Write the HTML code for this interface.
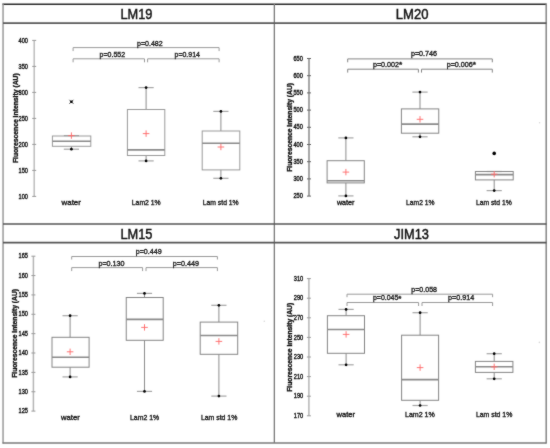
<!DOCTYPE html>
<html><head><meta charset="utf-8"><title>Fluorescence intensity</title>
<style>
html,body{margin:0;padding:0;background:#fff;}
body{width:550px;height:448px;overflow:hidden;}
svg{display:block;font-family:"Liberation Sans", "DejaVu Sans", sans-serif;}
</style></head>
<body>
<svg width="550" height="448" viewBox="0 0 550 448">
<defs><filter id="bl" x="0" y="0" width="550" height="448" filterUnits="userSpaceOnUse" color-interpolation-filters="sRGB"><feConvolveMatrix order="3" kernelMatrix="1 2 1 2 24.0 2 1 2 1" divisor="36.0" edgeMode="duplicate"/></filter></defs>
<rect width="550" height="448" fill="#fff"/>
<g filter="url(#bl)">
<rect width="550" height="448" fill="#fff"/>
<text x="120.4" y="18.7" font-size="14" fill="#111" font-weight="normal" text-anchor="start" textLength="32.0" lengthAdjust="spacingAndGlyphs" stroke="#111" stroke-width="0.45">LM19</text>
<line x1="34.2" y1="40.4" x2="34.2" y2="196.4" stroke="#bdbdbd" stroke-width="1.5"/>
<line x1="32.2" y1="40.4" x2="36.2" y2="40.4" stroke="#999" stroke-width="1.0"/>
<text x="27.9" y="42.55" font-size="6.6" fill="#1a1a1a" font-weight="normal" text-anchor="end" textLength="9.4" lengthAdjust="spacingAndGlyphs" stroke="#1a1a1a" stroke-width="0.4">400</text>
<line x1="32.2" y1="66.4" x2="36.2" y2="66.4" stroke="#999" stroke-width="1.0"/>
<text x="27.9" y="68.55000000000001" font-size="6.6" fill="#1a1a1a" font-weight="normal" text-anchor="end" textLength="9.4" lengthAdjust="spacingAndGlyphs" stroke="#1a1a1a" stroke-width="0.4">350</text>
<line x1="32.2" y1="92.4" x2="36.2" y2="92.4" stroke="#999" stroke-width="1.0"/>
<text x="27.9" y="94.55000000000001" font-size="6.6" fill="#1a1a1a" font-weight="normal" text-anchor="end" textLength="9.4" lengthAdjust="spacingAndGlyphs" stroke="#1a1a1a" stroke-width="0.4">300</text>
<line x1="32.2" y1="118.4" x2="36.2" y2="118.4" stroke="#999" stroke-width="1.0"/>
<text x="27.9" y="120.55000000000001" font-size="6.6" fill="#1a1a1a" font-weight="normal" text-anchor="end" textLength="9.4" lengthAdjust="spacingAndGlyphs" stroke="#1a1a1a" stroke-width="0.4">250</text>
<line x1="32.2" y1="144.4" x2="36.2" y2="144.4" stroke="#999" stroke-width="1.0"/>
<text x="27.9" y="146.55" font-size="6.6" fill="#1a1a1a" font-weight="normal" text-anchor="end" textLength="9.4" lengthAdjust="spacingAndGlyphs" stroke="#1a1a1a" stroke-width="0.4">200</text>
<line x1="32.2" y1="170.4" x2="36.2" y2="170.4" stroke="#999" stroke-width="1.0"/>
<text x="27.9" y="172.55" font-size="6.6" fill="#1a1a1a" font-weight="normal" text-anchor="end" textLength="9.4" lengthAdjust="spacingAndGlyphs" stroke="#1a1a1a" stroke-width="0.4">150</text>
<line x1="32.2" y1="196.4" x2="36.2" y2="196.4" stroke="#999" stroke-width="1.0"/>
<text x="27.9" y="198.55" font-size="6.6" fill="#1a1a1a" font-weight="normal" text-anchor="end" textLength="9.4" lengthAdjust="spacingAndGlyphs" stroke="#1a1a1a" stroke-width="0.4">100</text>
<text transform="translate(17.5,163.1) rotate(-90)" x="0" y="0" font-size="7.3" font-weight="bold" fill="#111" stroke="#111" stroke-width="0.35" textLength="89.89999999999999" lengthAdjust="spacingAndGlyphs">Fluorescence intensity (AU)</text>
<path d="M73.1 51.1 V47.6 H219.1 V51.1" fill="none" stroke="#9a9a9a" stroke-width="1"/>
<path d="M73.1 62.3 V58.8 H144.5 V62.3" fill="none" stroke="#9a9a9a" stroke-width="1"/>
<path d="M147.6 62.3 V58.8 H219.1 V62.3" fill="none" stroke="#9a9a9a" stroke-width="1"/>
<text x="137.1" y="45.5" font-size="6.9" fill="#222" font-weight="normal" text-anchor="start" textLength="25.6" lengthAdjust="spacingAndGlyphs" stroke="#222" stroke-width="0.35">p=0.482</text>
<text x="99.6" y="56.5" font-size="6.9" fill="#222" font-weight="normal" text-anchor="start" textLength="25.5" lengthAdjust="spacingAndGlyphs" stroke="#222" stroke-width="0.35">p=0.552</text>
<text x="174.5" y="56.5" font-size="6.9" fill="#222" font-weight="normal" text-anchor="start" textLength="25.5" lengthAdjust="spacingAndGlyphs" stroke="#222" stroke-width="0.35">p=0.914</text>
<line x1="71.4" y1="135.6" x2="71.4" y2="136.0" stroke="#8c8c8c" stroke-width="1.0"/>
<line x1="71.4" y1="146.3" x2="71.4" y2="149.2" stroke="#8c8c8c" stroke-width="1.0"/>
<line x1="63.800000000000004" y1="135.6" x2="79.0" y2="135.6" stroke="#a5a5a5" stroke-width="1.2"/>
<line x1="63.800000000000004" y1="149.2" x2="79.0" y2="149.2" stroke="#a5a5a5" stroke-width="1.2"/>
<circle cx="71.4" cy="149.2" r="1.35" fill="#000"/>
<rect x="52.4" y="136.0" width="38.4" height="10.300000000000011" fill="none" stroke="#9a9a9a" stroke-width="1"/>
<line x1="52.4" y1="141.3" x2="90.8" y2="141.3" stroke="#8a8a8a" stroke-width="1.6"/>
<line x1="68.10000000000001" y1="135.6" x2="74.7" y2="135.6" stroke="#ff6666" stroke-width="0.9"/>
<line x1="71.4" y1="132.4" x2="71.4" y2="138.79999999999998" stroke="#ff6666" stroke-width="0.9"/>
<line x1="146.1" y1="87.6" x2="146.1" y2="109.5" stroke="#8c8c8c" stroke-width="1.0"/>
<line x1="146.1" y1="155.5" x2="146.1" y2="160.9" stroke="#8c8c8c" stroke-width="1.0"/>
<line x1="138.5" y1="87.6" x2="153.7" y2="87.6" stroke="#a5a5a5" stroke-width="1.2"/>
<line x1="138.5" y1="160.9" x2="153.7" y2="160.9" stroke="#a5a5a5" stroke-width="1.2"/>
<circle cx="146.1" cy="87.6" r="1.35" fill="#000"/>
<circle cx="146.1" cy="160.9" r="1.35" fill="#000"/>
<rect x="127.4" y="109.5" width="37.400000000000006" height="46.0" fill="none" stroke="#9a9a9a" stroke-width="1"/>
<line x1="127.4" y1="149.9" x2="164.8" y2="149.9" stroke="#8a8a8a" stroke-width="1.6"/>
<line x1="142.79999999999998" y1="133.6" x2="149.4" y2="133.6" stroke="#ff6666" stroke-width="0.9"/>
<line x1="146.1" y1="130.4" x2="146.1" y2="136.79999999999998" stroke="#ff6666" stroke-width="0.9"/>
<line x1="220.9" y1="111.4" x2="220.9" y2="131.0" stroke="#8c8c8c" stroke-width="1.0"/>
<line x1="220.9" y1="169.9" x2="220.9" y2="178.3" stroke="#8c8c8c" stroke-width="1.0"/>
<line x1="213.3" y1="111.4" x2="228.5" y2="111.4" stroke="#a5a5a5" stroke-width="1.2"/>
<line x1="213.3" y1="178.3" x2="228.5" y2="178.3" stroke="#a5a5a5" stroke-width="1.2"/>
<circle cx="220.9" cy="111.4" r="1.35" fill="#000"/>
<circle cx="220.9" cy="178.3" r="1.35" fill="#000"/>
<rect x="202.2" y="131.0" width="37.60000000000002" height="38.900000000000006" fill="none" stroke="#9a9a9a" stroke-width="1"/>
<line x1="202.2" y1="143.2" x2="239.8" y2="143.2" stroke="#8a8a8a" stroke-width="1.6"/>
<line x1="217.6" y1="147.0" x2="224.20000000000002" y2="147.0" stroke="#ff6666" stroke-width="0.9"/>
<line x1="220.9" y1="143.8" x2="220.9" y2="150.2" stroke="#ff6666" stroke-width="0.9"/>
<path d="M69.4 99.8 L73.4 103.8 M73.4 99.8 L69.4 103.8" stroke="#444" stroke-width="1.0"/>
<circle cx="71.4" cy="101.8" r="1.3" fill="#000"/>
<text x="61.6" y="205.3" font-size="7" fill="#1a1a1a" font-weight="normal" text-anchor="start" textLength="19.2" lengthAdjust="spacingAndGlyphs" stroke="#1a1a1a" stroke-width="0.35">water</text>
<text x="131.8" y="205.3" font-size="7" fill="#1a1a1a" font-weight="normal" text-anchor="start" textLength="28.9" lengthAdjust="spacingAndGlyphs" stroke="#1a1a1a" stroke-width="0.35">Lam2 1%</text>
<text x="202.7" y="205.3" font-size="7" fill="#1a1a1a" font-weight="normal" text-anchor="start" textLength="36.0" lengthAdjust="spacingAndGlyphs" stroke="#1a1a1a" stroke-width="0.35">Lam std 1%</text>
<text x="395.8" y="18.7" font-size="14" fill="#111" font-weight="normal" text-anchor="start" textLength="32.7" lengthAdjust="spacingAndGlyphs" stroke="#111" stroke-width="0.45">LM20</text>
<line x1="309.0" y1="58.5" x2="309.0" y2="196.1" stroke="#8a8a8a" stroke-width="1.5"/>
<line x1="307.0" y1="58.5" x2="311.0" y2="58.5" stroke="#666" stroke-width="1.0"/>
<text x="302.8" y="60.65" font-size="6.6" fill="#1a1a1a" font-weight="normal" text-anchor="end" textLength="9.4" lengthAdjust="spacingAndGlyphs" stroke="#1a1a1a" stroke-width="0.4">650</text>
<line x1="307.0" y1="75.7" x2="311.0" y2="75.7" stroke="#666" stroke-width="1.0"/>
<text x="302.8" y="77.85000000000001" font-size="6.6" fill="#1a1a1a" font-weight="normal" text-anchor="end" textLength="9.4" lengthAdjust="spacingAndGlyphs" stroke="#1a1a1a" stroke-width="0.4">600</text>
<line x1="307.0" y1="92.9" x2="311.0" y2="92.9" stroke="#666" stroke-width="1.0"/>
<text x="302.8" y="95.05000000000001" font-size="6.6" fill="#1a1a1a" font-weight="normal" text-anchor="end" textLength="9.4" lengthAdjust="spacingAndGlyphs" stroke="#1a1a1a" stroke-width="0.4">550</text>
<line x1="307.0" y1="110.1" x2="311.0" y2="110.1" stroke="#666" stroke-width="1.0"/>
<text x="302.8" y="112.25" font-size="6.6" fill="#1a1a1a" font-weight="normal" text-anchor="end" textLength="9.4" lengthAdjust="spacingAndGlyphs" stroke="#1a1a1a" stroke-width="0.4">500</text>
<line x1="307.0" y1="127.3" x2="311.0" y2="127.3" stroke="#666" stroke-width="1.0"/>
<text x="302.8" y="129.45" font-size="6.6" fill="#1a1a1a" font-weight="normal" text-anchor="end" textLength="9.4" lengthAdjust="spacingAndGlyphs" stroke="#1a1a1a" stroke-width="0.4">450</text>
<line x1="307.0" y1="144.5" x2="311.0" y2="144.5" stroke="#666" stroke-width="1.0"/>
<text x="302.8" y="146.65" font-size="6.6" fill="#1a1a1a" font-weight="normal" text-anchor="end" textLength="9.4" lengthAdjust="spacingAndGlyphs" stroke="#1a1a1a" stroke-width="0.4">400</text>
<line x1="307.0" y1="161.7" x2="311.0" y2="161.7" stroke="#666" stroke-width="1.0"/>
<text x="302.8" y="163.85" font-size="6.6" fill="#1a1a1a" font-weight="normal" text-anchor="end" textLength="9.4" lengthAdjust="spacingAndGlyphs" stroke="#1a1a1a" stroke-width="0.4">350</text>
<line x1="307.0" y1="178.89999999999998" x2="311.0" y2="178.89999999999998" stroke="#666" stroke-width="1.0"/>
<text x="302.8" y="181.04999999999998" font-size="6.6" fill="#1a1a1a" font-weight="normal" text-anchor="end" textLength="9.4" lengthAdjust="spacingAndGlyphs" stroke="#1a1a1a" stroke-width="0.4">300</text>
<line x1="307.0" y1="196.1" x2="311.0" y2="196.1" stroke="#666" stroke-width="1.0"/>
<text x="302.8" y="198.25" font-size="6.6" fill="#1a1a1a" font-weight="normal" text-anchor="end" textLength="9.4" lengthAdjust="spacingAndGlyphs" stroke="#1a1a1a" stroke-width="0.4">250</text>
<text transform="translate(292.2,171.8) rotate(-90)" x="0" y="0" font-size="7.3" font-weight="bold" fill="#111" stroke="#111" stroke-width="0.35" textLength="88.80000000000001" lengthAdjust="spacingAndGlyphs">Fluorescence intensity (AU)</text>
<path d="M347.7 62.3 V58.9 H492.3 V62.3" fill="none" stroke="#858585" stroke-width="1"/>
<path d="M347.7 72.60000000000001 V69.2 H418.4 V72.60000000000001" fill="none" stroke="#858585" stroke-width="1"/>
<path d="M421.5 72.60000000000001 V69.2 H492.3 V72.60000000000001" fill="none" stroke="#858585" stroke-width="1"/>
<text x="410.9" y="56.2" font-size="6.9" fill="#222" font-weight="normal" text-anchor="start" textLength="26.2" lengthAdjust="spacingAndGlyphs" stroke="#222" stroke-width="0.35">p=0.746</text>
<text x="372.9" y="66.6" font-size="6.9" fill="#222" font-weight="normal" text-anchor="start" textLength="29.3" lengthAdjust="spacingAndGlyphs" stroke="#222" stroke-width="0.35">p=0.002<tspan font-size="7.8" font-weight="bold" dy="0.1">*</tspan></text>
<text x="446.7" y="66.6" font-size="6.9" fill="#222" font-weight="normal" text-anchor="start" textLength="29.3" lengthAdjust="spacingAndGlyphs" stroke="#222" stroke-width="0.35">p=0.006<tspan font-size="7.8" font-weight="bold" dy="0.1">*</tspan></text>
<line x1="345.9" y1="137.9" x2="345.9" y2="160.7" stroke="#8c8c8c" stroke-width="1.0"/>
<line x1="345.9" y1="182.9" x2="345.9" y2="195.9" stroke="#8c8c8c" stroke-width="1.0"/>
<line x1="338.29999999999995" y1="137.9" x2="353.5" y2="137.9" stroke="#a5a5a5" stroke-width="1.2"/>
<line x1="338.29999999999995" y1="195.9" x2="353.5" y2="195.9" stroke="#a5a5a5" stroke-width="1.2"/>
<circle cx="345.9" cy="137.9" r="1.35" fill="#000"/>
<circle cx="345.9" cy="195.9" r="1.35" fill="#000"/>
<rect x="327.1" y="160.7" width="37.19999999999999" height="22.200000000000017" fill="none" stroke="#858585" stroke-width="1"/>
<line x1="327.1" y1="180.7" x2="364.3" y2="180.7" stroke="#8a8a8a" stroke-width="1.6"/>
<line x1="342.59999999999997" y1="172.1" x2="349.2" y2="172.1" stroke="#ff6666" stroke-width="0.9"/>
<line x1="345.9" y1="168.9" x2="345.9" y2="175.29999999999998" stroke="#ff6666" stroke-width="0.9"/>
<line x1="420.0" y1="92.1" x2="420.0" y2="108.9" stroke="#8c8c8c" stroke-width="1.0"/>
<line x1="420.0" y1="133.2" x2="420.0" y2="136.8" stroke="#8c8c8c" stroke-width="1.0"/>
<line x1="412.4" y1="92.1" x2="427.6" y2="92.1" stroke="#a5a5a5" stroke-width="1.2"/>
<line x1="412.4" y1="136.8" x2="427.6" y2="136.8" stroke="#a5a5a5" stroke-width="1.2"/>
<circle cx="420.0" cy="92.1" r="1.35" fill="#000"/>
<circle cx="420.0" cy="136.8" r="1.35" fill="#000"/>
<rect x="401.4" y="108.9" width="37.35000000000002" height="24.299999999999983" fill="none" stroke="#858585" stroke-width="1"/>
<line x1="401.4" y1="124.1" x2="438.75" y2="124.1" stroke="#8a8a8a" stroke-width="1.6"/>
<line x1="416.7" y1="119.3" x2="423.3" y2="119.3" stroke="#ff6666" stroke-width="0.9"/>
<line x1="420.0" y1="116.1" x2="420.0" y2="122.5" stroke="#ff6666" stroke-width="0.9"/>
<line x1="494.2" y1="171.5" x2="494.2" y2="171.5" stroke="#8c8c8c" stroke-width="1.0"/>
<line x1="494.2" y1="179.9" x2="494.2" y2="190.6" stroke="#8c8c8c" stroke-width="1.0"/>
<line x1="486.59999999999997" y1="171.5" x2="501.8" y2="171.5" stroke="#a5a5a5" stroke-width="1.2"/>
<line x1="486.59999999999997" y1="190.6" x2="501.8" y2="190.6" stroke="#a5a5a5" stroke-width="1.2"/>
<circle cx="494.2" cy="190.6" r="1.35" fill="#000"/>
<rect x="475.4" y="171.5" width="37.80000000000007" height="8.400000000000006" fill="none" stroke="#858585" stroke-width="1"/>
<line x1="475.4" y1="174.6" x2="513.2" y2="174.6" stroke="#8a8a8a" stroke-width="1.6"/>
<line x1="490.9" y1="174.2" x2="497.5" y2="174.2" stroke="#ff6666" stroke-width="0.9"/>
<line x1="494.2" y1="171.0" x2="494.2" y2="177.39999999999998" stroke="#ff6666" stroke-width="0.9"/>
<circle cx="494.2" cy="153.4" r="1.8" fill="#000"/>
<text x="336.9" y="205.4" font-size="7" fill="#1a1a1a" font-weight="normal" text-anchor="start" textLength="17.6" lengthAdjust="spacingAndGlyphs" stroke="#1a1a1a" stroke-width="0.35">water</text>
<text x="406.1" y="205.4" font-size="7" fill="#1a1a1a" font-weight="normal" text-anchor="start" textLength="28.4" lengthAdjust="spacingAndGlyphs" stroke="#1a1a1a" stroke-width="0.35">Lam2 1%</text>
<text x="475.9" y="205.4" font-size="7" fill="#1a1a1a" font-weight="normal" text-anchor="start" textLength="35.8" lengthAdjust="spacingAndGlyphs" stroke="#1a1a1a" stroke-width="0.35">Lam std 1%</text>
<text x="120.4" y="238.5" font-size="14" fill="#111" font-weight="normal" text-anchor="start" textLength="32.1" lengthAdjust="spacingAndGlyphs" stroke="#111" stroke-width="0.45">LM15</text>
<line x1="33.4" y1="256.2" x2="33.4" y2="411.1" stroke="#b5b5b5" stroke-width="1.5"/>
<line x1="31.4" y1="256.2" x2="35.4" y2="256.2" stroke="#999" stroke-width="1.0"/>
<text x="27.9" y="258.34999999999997" font-size="6.6" fill="#1a1a1a" font-weight="normal" text-anchor="end" textLength="9.4" lengthAdjust="spacingAndGlyphs" stroke="#1a1a1a" stroke-width="0.4">165</text>
<line x1="31.4" y1="275.5625" x2="35.4" y2="275.5625" stroke="#999" stroke-width="1.0"/>
<text x="27.9" y="277.7125" font-size="6.6" fill="#1a1a1a" font-weight="normal" text-anchor="end" textLength="9.4" lengthAdjust="spacingAndGlyphs" stroke="#1a1a1a" stroke-width="0.4">160</text>
<line x1="31.4" y1="294.925" x2="35.4" y2="294.925" stroke="#999" stroke-width="1.0"/>
<text x="27.9" y="297.075" font-size="6.6" fill="#1a1a1a" font-weight="normal" text-anchor="end" textLength="9.4" lengthAdjust="spacingAndGlyphs" stroke="#1a1a1a" stroke-width="0.4">155</text>
<line x1="31.4" y1="314.2875" x2="35.4" y2="314.2875" stroke="#999" stroke-width="1.0"/>
<text x="27.9" y="316.4375" font-size="6.6" fill="#1a1a1a" font-weight="normal" text-anchor="end" textLength="9.4" lengthAdjust="spacingAndGlyphs" stroke="#1a1a1a" stroke-width="0.4">150</text>
<line x1="31.4" y1="333.65" x2="35.4" y2="333.65" stroke="#999" stroke-width="1.0"/>
<text x="27.9" y="335.79999999999995" font-size="6.6" fill="#1a1a1a" font-weight="normal" text-anchor="end" textLength="9.4" lengthAdjust="spacingAndGlyphs" stroke="#1a1a1a" stroke-width="0.4">145</text>
<line x1="31.4" y1="353.01250000000005" x2="35.4" y2="353.01250000000005" stroke="#999" stroke-width="1.0"/>
<text x="27.9" y="355.1625" font-size="6.6" fill="#1a1a1a" font-weight="normal" text-anchor="end" textLength="9.4" lengthAdjust="spacingAndGlyphs" stroke="#1a1a1a" stroke-width="0.4">140</text>
<line x1="31.4" y1="372.375" x2="35.4" y2="372.375" stroke="#999" stroke-width="1.0"/>
<text x="27.9" y="374.525" font-size="6.6" fill="#1a1a1a" font-weight="normal" text-anchor="end" textLength="9.4" lengthAdjust="spacingAndGlyphs" stroke="#1a1a1a" stroke-width="0.4">135</text>
<line x1="31.4" y1="391.7375" x2="35.4" y2="391.7375" stroke="#999" stroke-width="1.0"/>
<text x="27.9" y="393.8875" font-size="6.6" fill="#1a1a1a" font-weight="normal" text-anchor="end" textLength="9.4" lengthAdjust="spacingAndGlyphs" stroke="#1a1a1a" stroke-width="0.4">130</text>
<line x1="31.4" y1="411.1" x2="35.4" y2="411.1" stroke="#999" stroke-width="1.0"/>
<text x="27.9" y="413.25" font-size="6.6" fill="#1a1a1a" font-weight="normal" text-anchor="end" textLength="9.4" lengthAdjust="spacingAndGlyphs" stroke="#1a1a1a" stroke-width="0.4">125</text>
<text transform="translate(16.9,377.8) rotate(-90)" x="0" y="0" font-size="7.3" font-weight="bold" fill="#111" stroke="#111" stroke-width="0.35" textLength="88.80000000000001" lengthAdjust="spacingAndGlyphs">Fluorescence intensity (AU)</text>
<path d="M71.7 259.5 V256.5 H217.4 V259.5" fill="none" stroke="#9a9a9a" stroke-width="1"/>
<path d="M71.7 271.1 V267.6 H142.6 V271.1" fill="none" stroke="#9a9a9a" stroke-width="1"/>
<path d="M146.0 271.1 V267.6 H217.4 V271.1" fill="none" stroke="#9a9a9a" stroke-width="1"/>
<text x="135.8" y="253.9" font-size="6.9" fill="#222" font-weight="normal" text-anchor="start" textLength="25.8" lengthAdjust="spacingAndGlyphs" stroke="#222" stroke-width="0.35">p=0.449</text>
<text x="98.4" y="265.5" font-size="6.9" fill="#222" font-weight="normal" text-anchor="start" textLength="26.2" lengthAdjust="spacingAndGlyphs" stroke="#222" stroke-width="0.35">p=0.130</text>
<text x="172.8" y="265.5" font-size="6.9" fill="#222" font-weight="normal" text-anchor="start" textLength="26.2" lengthAdjust="spacingAndGlyphs" stroke="#222" stroke-width="0.35">p=0.449</text>
<line x1="70.1" y1="315.7" x2="70.1" y2="337.3" stroke="#8c8c8c" stroke-width="1.0"/>
<line x1="70.1" y1="367.2" x2="70.1" y2="376.9" stroke="#8c8c8c" stroke-width="1.0"/>
<line x1="62.49999999999999" y1="315.7" x2="77.69999999999999" y2="315.7" stroke="#a5a5a5" stroke-width="1.2"/>
<line x1="62.49999999999999" y1="376.9" x2="77.69999999999999" y2="376.9" stroke="#a5a5a5" stroke-width="1.2"/>
<circle cx="70.1" cy="315.7" r="1.35" fill="#000"/>
<circle cx="70.1" cy="376.9" r="1.35" fill="#000"/>
<rect x="52.0" y="337.3" width="37.099999999999994" height="29.899999999999977" fill="none" stroke="#858585" stroke-width="1"/>
<line x1="52.0" y1="357.2" x2="89.1" y2="357.2" stroke="#8a8a8a" stroke-width="1.6"/>
<line x1="66.8" y1="351.8" x2="73.39999999999999" y2="351.8" stroke="#ff6666" stroke-width="0.9"/>
<line x1="70.1" y1="348.6" x2="70.1" y2="355.0" stroke="#ff6666" stroke-width="0.9"/>
<line x1="144.5" y1="293.4" x2="144.5" y2="297.5" stroke="#8c8c8c" stroke-width="1.0"/>
<line x1="144.5" y1="340.3" x2="144.5" y2="391.4" stroke="#8c8c8c" stroke-width="1.0"/>
<line x1="136.9" y1="293.4" x2="152.1" y2="293.4" stroke="#a5a5a5" stroke-width="1.2"/>
<line x1="136.9" y1="391.4" x2="152.1" y2="391.4" stroke="#a5a5a5" stroke-width="1.2"/>
<circle cx="144.5" cy="293.4" r="1.35" fill="#000"/>
<circle cx="144.5" cy="391.4" r="1.35" fill="#000"/>
<rect x="126.25" y="297.5" width="36.94999999999999" height="42.80000000000001" fill="none" stroke="#858585" stroke-width="1"/>
<line x1="126.25" y1="319.4" x2="163.2" y2="319.4" stroke="#8a8a8a" stroke-width="1.6"/>
<line x1="141.2" y1="327.4" x2="147.8" y2="327.4" stroke="#ff6666" stroke-width="0.9"/>
<line x1="144.5" y1="324.2" x2="144.5" y2="330.59999999999997" stroke="#ff6666" stroke-width="0.9"/>
<line x1="218.9" y1="305.3" x2="218.9" y2="322.1" stroke="#8c8c8c" stroke-width="1.0"/>
<line x1="218.9" y1="354.3" x2="218.9" y2="396.1" stroke="#8c8c8c" stroke-width="1.0"/>
<line x1="211.3" y1="305.3" x2="226.5" y2="305.3" stroke="#a5a5a5" stroke-width="1.2"/>
<line x1="211.3" y1="396.1" x2="226.5" y2="396.1" stroke="#a5a5a5" stroke-width="1.2"/>
<circle cx="218.9" cy="305.3" r="1.35" fill="#000"/>
<circle cx="218.9" cy="396.1" r="1.35" fill="#000"/>
<rect x="200.2" y="322.1" width="37.5" height="32.19999999999999" fill="none" stroke="#858585" stroke-width="1"/>
<line x1="200.2" y1="335.5" x2="237.7" y2="335.5" stroke="#8a8a8a" stroke-width="1.6"/>
<line x1="215.6" y1="341.4" x2="222.20000000000002" y2="341.4" stroke="#ff6666" stroke-width="0.9"/>
<line x1="218.9" y1="338.2" x2="218.9" y2="344.59999999999997" stroke="#ff6666" stroke-width="0.9"/>
<text x="61.1" y="419.8" font-size="7" fill="#1a1a1a" font-weight="normal" text-anchor="start" textLength="18.6" lengthAdjust="spacingAndGlyphs" stroke="#1a1a1a" stroke-width="0.35">water</text>
<text x="130.0" y="419.8" font-size="7" fill="#1a1a1a" font-weight="normal" text-anchor="start" textLength="29.1" lengthAdjust="spacingAndGlyphs" stroke="#1a1a1a" stroke-width="0.35">Lam2 1%</text>
<text x="200.9" y="419.8" font-size="7" fill="#1a1a1a" font-weight="normal" text-anchor="start" textLength="36.4" lengthAdjust="spacingAndGlyphs" stroke="#1a1a1a" stroke-width="0.35">Lam std 1%</text>
<text x="394.0" y="238.5" font-size="14" fill="#111" font-weight="normal" text-anchor="start" textLength="34.9" lengthAdjust="spacingAndGlyphs" stroke="#111" stroke-width="0.45">JIM13</text>
<line x1="308.9" y1="278.6" x2="308.9" y2="415.8" stroke="#b5b5b5" stroke-width="1.5"/>
<line x1="306.9" y1="278.6" x2="310.9" y2="278.6" stroke="#999" stroke-width="1.0"/>
<text x="303.2" y="280.75" font-size="6.6" fill="#1a1a1a" font-weight="normal" text-anchor="end" textLength="9.4" lengthAdjust="spacingAndGlyphs" stroke="#1a1a1a" stroke-width="0.4">310</text>
<line x1="306.9" y1="298.20000000000005" x2="310.9" y2="298.20000000000005" stroke="#999" stroke-width="1.0"/>
<text x="303.2" y="300.35" font-size="6.6" fill="#1a1a1a" font-weight="normal" text-anchor="end" textLength="9.4" lengthAdjust="spacingAndGlyphs" stroke="#1a1a1a" stroke-width="0.4">290</text>
<line x1="306.9" y1="317.8" x2="310.9" y2="317.8" stroke="#999" stroke-width="1.0"/>
<text x="303.2" y="319.95" font-size="6.6" fill="#1a1a1a" font-weight="normal" text-anchor="end" textLength="9.4" lengthAdjust="spacingAndGlyphs" stroke="#1a1a1a" stroke-width="0.4">270</text>
<line x1="306.9" y1="337.40000000000003" x2="310.9" y2="337.40000000000003" stroke="#999" stroke-width="1.0"/>
<text x="303.2" y="339.55" font-size="6.6" fill="#1a1a1a" font-weight="normal" text-anchor="end" textLength="9.4" lengthAdjust="spacingAndGlyphs" stroke="#1a1a1a" stroke-width="0.4">250</text>
<line x1="306.9" y1="357.0" x2="310.9" y2="357.0" stroke="#999" stroke-width="1.0"/>
<text x="303.2" y="359.15" font-size="6.6" fill="#1a1a1a" font-weight="normal" text-anchor="end" textLength="9.4" lengthAdjust="spacingAndGlyphs" stroke="#1a1a1a" stroke-width="0.4">230</text>
<line x1="306.9" y1="376.6" x2="310.9" y2="376.6" stroke="#999" stroke-width="1.0"/>
<text x="303.2" y="378.75" font-size="6.6" fill="#1a1a1a" font-weight="normal" text-anchor="end" textLength="9.4" lengthAdjust="spacingAndGlyphs" stroke="#1a1a1a" stroke-width="0.4">210</text>
<line x1="306.9" y1="396.20000000000005" x2="310.9" y2="396.20000000000005" stroke="#999" stroke-width="1.0"/>
<text x="303.2" y="398.35" font-size="6.6" fill="#1a1a1a" font-weight="normal" text-anchor="end" textLength="9.4" lengthAdjust="spacingAndGlyphs" stroke="#1a1a1a" stroke-width="0.4">190</text>
<line x1="306.9" y1="415.8" x2="310.9" y2="415.8" stroke="#999" stroke-width="1.0"/>
<text x="303.2" y="417.95" font-size="6.6" fill="#1a1a1a" font-weight="normal" text-anchor="end" textLength="9.4" lengthAdjust="spacingAndGlyphs" stroke="#1a1a1a" stroke-width="0.4">170</text>
<text transform="translate(292.3,391.8) rotate(-90)" x="0" y="0" font-size="7.3" font-weight="bold" fill="#111" stroke="#111" stroke-width="0.35" textLength="89.0" lengthAdjust="spacingAndGlyphs">Fluorescence intensity (AU)</text>
<path d="M347.0 297.2 V294.2 H492.6 V297.2" fill="none" stroke="#9a9a9a" stroke-width="1"/>
<path d="M347.0 306.0 V302.5 H418.6 V306.0" fill="none" stroke="#9a9a9a" stroke-width="1"/>
<path d="M422.0 306.0 V302.5 H492.6 V306.0" fill="none" stroke="#9a9a9a" stroke-width="1"/>
<text x="411.3" y="291.6" font-size="6.9" fill="#222" font-weight="normal" text-anchor="start" textLength="25.7" lengthAdjust="spacingAndGlyphs" stroke="#222" stroke-width="0.35">p=0.058</text>
<text x="373.0" y="300.4" font-size="6.9" fill="#222" font-weight="normal" text-anchor="start" textLength="28.4" lengthAdjust="spacingAndGlyphs" stroke="#222" stroke-width="0.35">p=0.045<tspan font-size="7.8" font-weight="bold" dy="0.1">*</tspan></text>
<text x="448.0" y="300.4" font-size="6.9" fill="#222" font-weight="normal" text-anchor="start" textLength="26.2" lengthAdjust="spacingAndGlyphs" stroke="#222" stroke-width="0.35">p=0.914</text>
<line x1="346.1" y1="309.4" x2="346.1" y2="315.7" stroke="#8c8c8c" stroke-width="1.0"/>
<line x1="346.1" y1="353.3" x2="346.1" y2="364.8" stroke="#8c8c8c" stroke-width="1.0"/>
<line x1="338.5" y1="309.4" x2="353.70000000000005" y2="309.4" stroke="#a5a5a5" stroke-width="1.2"/>
<line x1="338.5" y1="364.8" x2="353.70000000000005" y2="364.8" stroke="#a5a5a5" stroke-width="1.2"/>
<circle cx="346.1" cy="309.4" r="1.35" fill="#000"/>
<circle cx="346.1" cy="364.8" r="1.35" fill="#000"/>
<rect x="327.4" y="315.7" width="37.10000000000002" height="37.60000000000002" fill="none" stroke="#858585" stroke-width="1"/>
<line x1="327.4" y1="329.5" x2="364.5" y2="329.5" stroke="#8a8a8a" stroke-width="1.6"/>
<line x1="342.8" y1="334.4" x2="349.40000000000003" y2="334.4" stroke="#ff6666" stroke-width="0.9"/>
<line x1="346.1" y1="331.2" x2="346.1" y2="337.59999999999997" stroke="#ff6666" stroke-width="0.9"/>
<line x1="420.1" y1="312.7" x2="420.1" y2="335.2" stroke="#8c8c8c" stroke-width="1.0"/>
<line x1="420.1" y1="400.3" x2="420.1" y2="405.5" stroke="#8c8c8c" stroke-width="1.0"/>
<line x1="412.5" y1="312.7" x2="427.70000000000005" y2="312.7" stroke="#a5a5a5" stroke-width="1.2"/>
<line x1="412.5" y1="405.5" x2="427.70000000000005" y2="405.5" stroke="#a5a5a5" stroke-width="1.2"/>
<circle cx="420.1" cy="312.7" r="1.35" fill="#000"/>
<circle cx="420.1" cy="405.5" r="1.35" fill="#000"/>
<rect x="401.6" y="335.2" width="37.0" height="65.10000000000002" fill="none" stroke="#858585" stroke-width="1"/>
<line x1="401.6" y1="379.6" x2="438.6" y2="379.6" stroke="#8a8a8a" stroke-width="1.6"/>
<line x1="416.8" y1="367.6" x2="423.40000000000003" y2="367.6" stroke="#ff6666" stroke-width="0.9"/>
<line x1="420.1" y1="364.40000000000003" x2="420.1" y2="370.8" stroke="#ff6666" stroke-width="0.9"/>
<line x1="494.2" y1="353.7" x2="494.2" y2="361.4" stroke="#8c8c8c" stroke-width="1.0"/>
<line x1="494.2" y1="372.4" x2="494.2" y2="378.8" stroke="#8c8c8c" stroke-width="1.0"/>
<line x1="486.59999999999997" y1="353.7" x2="501.8" y2="353.7" stroke="#a5a5a5" stroke-width="1.2"/>
<line x1="486.59999999999997" y1="378.8" x2="501.8" y2="378.8" stroke="#a5a5a5" stroke-width="1.2"/>
<circle cx="494.2" cy="353.7" r="1.35" fill="#000"/>
<circle cx="494.2" cy="378.8" r="1.35" fill="#000"/>
<rect x="475.4" y="361.4" width="37.5" height="11.0" fill="none" stroke="#858585" stroke-width="1"/>
<line x1="475.4" y1="366.8" x2="512.9" y2="366.8" stroke="#8a8a8a" stroke-width="1.6"/>
<line x1="490.9" y1="366.8" x2="497.5" y2="366.8" stroke="#ff6666" stroke-width="0.9"/>
<line x1="494.2" y1="363.6" x2="494.2" y2="370.0" stroke="#ff6666" stroke-width="0.9"/>
<text x="336.5" y="416.7" font-size="7" fill="#1a1a1a" font-weight="normal" text-anchor="start" textLength="18.5" lengthAdjust="spacingAndGlyphs" stroke="#1a1a1a" stroke-width="0.35">water</text>
<text x="405.0" y="416.7" font-size="7" fill="#1a1a1a" font-weight="normal" text-anchor="start" textLength="29.8" lengthAdjust="spacingAndGlyphs" stroke="#1a1a1a" stroke-width="0.35">Lam2 1%</text>
<text x="475.9" y="416.7" font-size="7" fill="#1a1a1a" font-weight="normal" text-anchor="start" textLength="36.4" lengthAdjust="spacingAndGlyphs" stroke="#1a1a1a" stroke-width="0.35">Lam std 1%</text>
<circle cx="264.3" cy="321.3" r="0.8" fill="#d8d8d8"/>
<circle cx="539.6" cy="122.7" r="0.8" fill="#d8d8d8"/>
<circle cx="539.4" cy="342.4" r="0.8" fill="#d8d8d8"/>
<line x1="2.5" y1="4.2" x2="546.5" y2="4.2" stroke="#2a2a2a" stroke-width="1.6"/>
<line x1="3.05" y1="3.5" x2="3.05" y2="443.5" stroke="#939393" stroke-width="1.4"/>
<line x1="546.2" y1="3.5" x2="546.2" y2="443.5" stroke="#858585" stroke-width="1.5"/>
<line x1="2.5" y1="443.0" x2="546.5" y2="443.0" stroke="#7a7a7a" stroke-width="1.5"/>
<line x1="274.35" y1="4" x2="274.35" y2="443" stroke="#7a7a7a" stroke-width="1.3"/>
<line x1="3" y1="224.0" x2="546.5" y2="224.0" stroke="#555" stroke-width="1.6"/>
<line x1="3" y1="23.1" x2="546.5" y2="23.1" stroke="#5a5a5a" stroke-width="1.6"/>
<line x1="3" y1="242.6" x2="546.5" y2="242.6" stroke="#555" stroke-width="1.6"/>
</g>
</svg>
</body></html>
